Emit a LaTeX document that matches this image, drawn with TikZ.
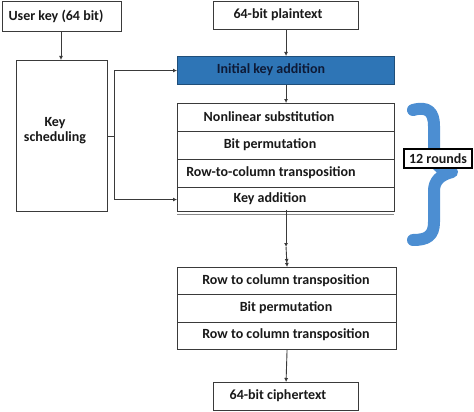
\documentclass[tikz,border=0pt]{standalone}
\usepackage{fontspec}
\setmainfont{Carlito}
\usetikzlibrary{arrows.meta}
\definecolor{edge}{HTML}{3A3A3A}
\definecolor{initblue}{HTML}{2E75B6}
\definecolor{initborder}{HTML}{1F4E79}
\definecolor{navytext}{HTML}{0E1A36}
\definecolor{braceblue}{HTML}{4C8ED2}
\tikzset{
  box/.style={draw=edge, line width=1.1pt, fill=white, inner sep=0pt, anchor=north west},
  lbl/.style={font=\bfseries\fontsize{14}{16}\selectfont, text=black!90, inner sep=0pt, align=center},
  conn/.style={draw=edge, line width=0.9pt},
  arr/.style={conn, -{Latex[length=4pt,width=4pt]}},
}
\begin{document}
\begin{tikzpicture}[x=1pt,y=-1pt]
\useasboundingbox (0,0) rectangle (474,412);
% boxes
\node[box, minimum width=119pt, minimum height=30pt] (user) at (2,0.6) {};
\node[box, minimum width=145pt, minimum height=28.5pt] (plain) at (213,0.6) {};
\node[box, minimum width=91pt, minimum height=151pt] (ks) at (16,60) {};
\node[box, draw=initborder, fill=initblue, minimum width=217pt, minimum height=28pt] (init) at (177,56) {};
\node[box, minimum width=217pt, minimum height=28pt] (r1) at (177,103) {};
\node[box, minimum width=217pt, minimum height=28pt] (r2) at (177,131) {};
\node[box, minimum width=217pt, minimum height=28pt] (r3) at (177,159) {};
\node[box, minimum width=217pt, minimum height=24pt] (r4) at (177,187) {};
\draw[edge!60, line width=0.8pt] (r4.south west) ++(0,2.2) -- ++(217,0);
\node[box, minimum width=219pt, minimum height=27pt] (l1) at (177,267) {};
\node[box, minimum width=219pt, minimum height=28pt] (l2) at (177,294) {};
\node[box, minimum width=219pt, minimum height=27pt] (l3) at (177,322) {};
\node[box, minimum width=145pt, minimum height=28pt] (ct) at (213,382) {};
% texts
\node[lbl] (tuser) at (56,16) {User key (64 bit)};
\node[lbl] (tplain) at (278,15) {64-bit plaintext};
\node[lbl, text=navytext] (tinit) at (271,70) {Initial key addition};
\node[lbl] (tks) at (55,131) {Key\\[-1pt]scheduling};
\node[lbl] (tr1) at (269,117) {Nonlinear substitution};
\node[lbl] (tr2) at (270,145) {Bit permutation};
\node[lbl] (tr3) at (271,173) {Row-to-column transposition};
\node[lbl] (tr4) at (270,199) {Key addition};
\node[lbl] (tl1) at (286,281) {Row to column transposition};
\node[lbl] (tl2) at (286,308) {Bit permutation};
\node[lbl] (tl3) at (286,335) {Row to column transposition};
\node[lbl] (tct) at (278,396) {64-bit ciphertext};
% brace
\draw[braceblue, line width=12pt, line cap=round, line join=round]
  (413,110) .. controls (428,106) and (434,112) .. (434,126)
  -- (434,154) .. controls (434,164) and (440,170) .. (452,172)
  .. controls (440,175) and (434,181) .. (434,191)
  -- (434,222) .. controls (434,236) and (427,240) .. (413,240);
\node[box, anchor=center, line width=1.2pt, draw=black, minimum width=68pt, minimum height=19pt, lbl] (rounds) at (438,158.5) {12 rounds};
% connectors
\draw[arr] (user.south -| 61,0) -- (61,0 |- ks.north);
\draw[arr] (plain.south) -- (init.north);
\draw[arr] (init.south) -- (r1.north);
\coordinate (j) at (114,0 |- ks.east);
\draw[conn] (ks.east) -- (j);
\draw[arr] (j) |- (init.west);
\draw[arr] (j) |- (r4.west);
\coordinate (mid) at (r4.south |- 0,247);
\draw[arr] ([yshift=2.5pt]r4.south) -- (mid);
\draw[conn, -{Latex[length=4pt,width=4pt]Latex[length=4pt,width=4pt]}] (mid) -- (l1.north);
\draw[arr] (l3.south) -- (ct.north);
\end{tikzpicture}
\end{document}
